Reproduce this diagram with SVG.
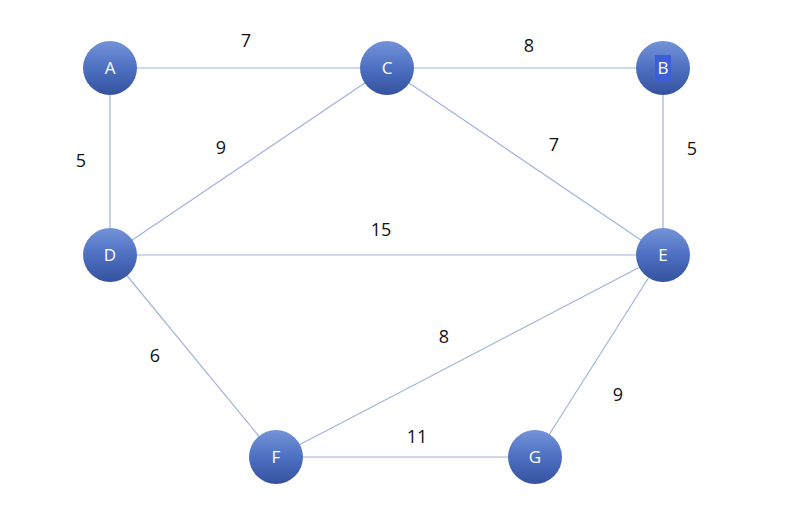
<svg xmlns="http://www.w3.org/2000/svg" width="794" height="505" viewBox="0 0 794 505">
<defs>
<linearGradient id="g" x1="0" y1="0" x2="0" y2="1">
<stop offset="0" stop-color="#7393d8"/><stop offset="0.5" stop-color="#4e70c2"/><stop offset="1" stop-color="#34529e"/>
</linearGradient>
</defs>
<style>
.n circle{fill:url(#g);}
.n text{fill:#fff;font-family:"Open Sans","Liberation Sans",sans-serif;font-size:17px;text-anchor:middle;}
.e line{stroke:#9fb4dc;stroke-width:1.2;}
.w{font-family:"Open Sans","Liberation Sans",sans-serif;font-size:18px;fill:#111;text-anchor:middle;}
</style>
<rect width="794" height="505" fill="#fff"/>
<g id="edges" class="e">
<line x1="110" y1="68" x2="387" y2="68"/>
<line x1="387" y1="68" x2="663" y2="68"/>
<line x1="110" y1="68" x2="110" y2="255"/>
<line x1="387" y1="68" x2="110" y2="255"/>
<line x1="387" y1="68" x2="663" y2="255"/>
<line x1="663" y1="68" x2="663" y2="255"/>
<line x1="110" y1="255" x2="663" y2="255"/>
<line x1="110" y1="255" x2="276" y2="457"/>
<line x1="663" y1="255" x2="276" y2="457"/>
<line x1="663" y1="255" x2="535" y2="457"/>
<line x1="276" y1="457" x2="535" y2="457"/>
</g>
<g id="weights" class="w">
<text x="246" y="47" class="w">7</text>
<text x="529" y="52" class="w">8</text>
<text x="81" y="167" class="w">5</text>
<text x="221" y="154" class="w">9</text>
<text x="554" y="151" class="w">7</text>
<text x="692" y="155" class="w">5</text>
<text x="381" y="236" class="w">15</text>
<text x="155" y="362" class="w">6</text>
<text x="444" y="343" class="w">8</text>
<text x="618" y="401" class="w">9</text>
<text x="417" y="443" class="w">11</text>
</g>
<g id="A" class="n"><circle cx="110" cy="68" r="27"/><text x="110" y="74">A</text></g>
<g id="C" class="n"><circle cx="387" cy="68" r="27"/><text x="387" y="74">C</text></g>
<g id="B" class="n"><circle cx="663" cy="68" r="27"/><rect x="655" y="55" width="16" height="26" fill="#3d5fd6"/><text x="663" y="74" fill="#dde6ff">B</text></g>
<g id="D" class="n"><circle cx="110" cy="255" r="27"/><text x="110" y="261">D</text></g>
<g id="E" class="n"><circle cx="663" cy="255" r="27"/><text x="663" y="261">E</text></g>
<g id="F" class="n"><circle cx="276" cy="457" r="27"/><text x="276" y="463">F</text></g>
<g id="G" class="n"><circle cx="535" cy="457" r="27"/><text x="535" y="463">G</text></g>
</svg>
